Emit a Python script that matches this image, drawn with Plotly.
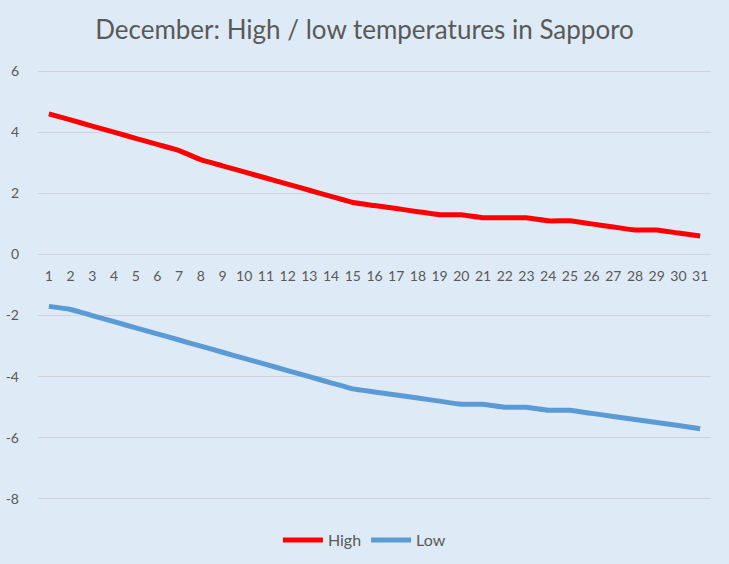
import plotly.graph_objects as go

days = list(range(1, 32))
high = [4.6, 4.4, 4.2, 4.0, 3.8, 3.6, 3.4, 3.1, 2.9, 2.7, 2.5, 2.3, 2.1, 1.9, 1.7,
        1.6, 1.5, 1.4, 1.3, 1.3, 1.2, 1.2, 1.2, 1.1, 1.1, 1.0, 0.9, 0.8, 0.8, 0.7, 0.6]
low = [-1.7, -1.8, -2.0, -2.2, -2.4, -2.6, -2.8, -3.0, -3.2, -3.4, -3.6, -3.8, -4.0, -4.2, -4.4,
       -4.5, -4.6, -4.7, -4.8, -4.9, -4.9, -5.0, -5.0, -5.1, -5.1, -5.2, -5.3, -5.4, -5.5, -5.6, -5.7]
y_ticks = [-8, -6, -4, -2, 0, 2, 4, 6]
y_labels = [str(v) for v in y_ticks]  # plain hyphen minus like the reference

txt = "#595959"
y_lo, y_hi = -8.1, 6.1

fig = go.Figure()
fig.add_trace(go.Scatter(x=days, y=high, name="High", mode="lines",
                         line=dict(color="#FF0000", width=5, shape="spline", smoothing=0.5)))
fig.add_trace(go.Scatter(x=days, y=low, name="Low", mode="lines",
                         line=dict(color="#5B9BD5", width=5, shape="spline", smoothing=0.5)))

fig.update_layout(
    width=729, height=564,
    margin=dict(l=38, r=18, t=68, b=62, autoexpand=False),
    paper_bgcolor="#DEEBF7", plot_bgcolor="#DEEBF7",
    title=dict(text="December: High / low temperatures in Sapporo", x=0.5, xanchor="center",
               y=1 - 30 / 564, yanchor="middle",
               font=dict(family="Lato, Open Sans, sans-serif", size=26, color=txt)),
    font=dict(family="Lato, Open Sans, sans-serif", color=txt),
    legend=dict(orientation="h", x=0.485, xanchor="center", y=-0.0876, yanchor="middle",
                itemwidth=40, font=dict(size=16, color=txt), bgcolor="rgba(0,0,0,0)"),
    xaxis=dict(range=[0.5, 31.5], tickvals=days, ticktext=[str(d) for d in days],
               showgrid=False, zeroline=False, showline=False, ticks="",
               anchor="free", position=(0 - y_lo) / (y_hi - y_lo), ticklabelstandoff=12,
               tickfont=dict(size=14, color=txt)),
    yaxis=dict(range=[y_lo, y_hi], tickvals=y_ticks, ticktext=y_labels,
               showgrid=True, gridcolor="#D0D5DB",
               gridwidth=1, zeroline=False, showline=False, ticks="",
               ticklabelstandoff=18, tickfont=dict(size=14, color=txt)),
)
fig.write_html("out.html")
